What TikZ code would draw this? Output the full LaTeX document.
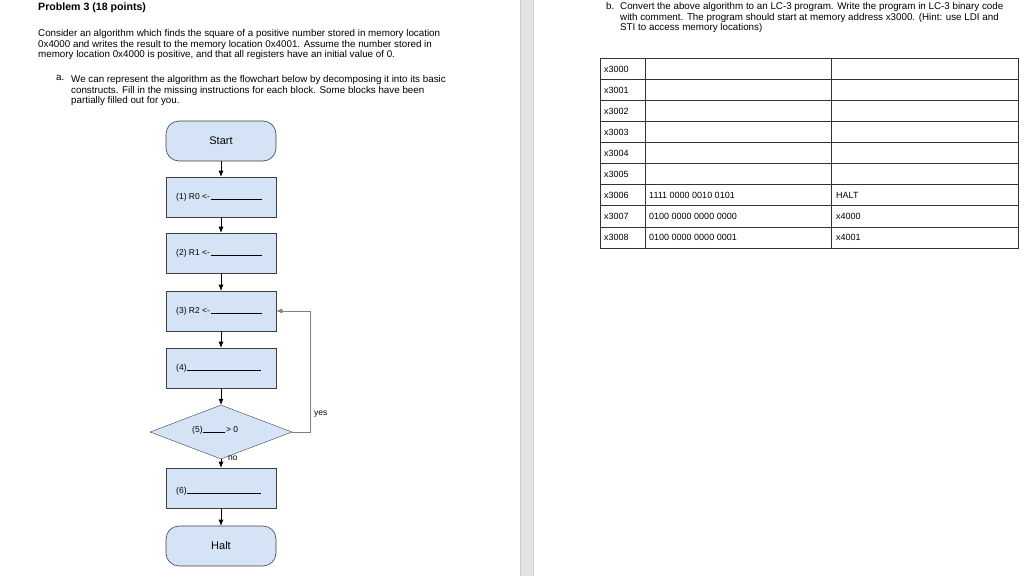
\documentclass[tikz,border=0pt]{standalone}
\usepackage{fontspec}
\setmainfont{Liberation Sans}
\usetikzlibrary{shapes.geometric,arrows.meta}
\begin{document}
\begin{tikzpicture}[x=1pt,y=-1pt,
  box/.style={draw=black!75,fill=fcol,line width=0.6pt,minimum width=110pt,minimum height=40pt,inner sep=0pt,font=\fontsize{8.5}{9}\selectfont},
  term/.style={box,rounded corners=13pt,font=\fontsize{11}{12}\selectfont},
  dia/.style={draw=black!75,fill=fcol,diamond,aspect=2.6,minimum width=142pt,minimum height=54pt,inner sep=0pt,font=\fontsize{8.5}{9}\selectfont},
  lbl/.style={anchor=west,inner sep=0pt,font=\fontsize{8.5}{9}\selectfont},
  arr/.style={-{Latex[length=6pt,width=5pt]},line width=0.6pt},
  body/.style={anchor=north west,align=left,font=\fontsize{9.8}{10.8}\selectfont,inner sep=0pt},
  cell/.style={font=\fontsize{9}{10}\selectfont,anchor=west,inner sep=0pt}]
\definecolor{fcol}{HTML}{D4E3F5}
\useasboundingbox (0,0) rectangle (1024,576);
\fill[white] (0,0) rectangle (1024,576);
\fill[black!11] (520,0) rectangle (533,576);
\draw[black!20] (520,0) -- (520,576) (533,0)--(533,576);
\node[body,font=\fontsize{10.6}{12}\selectfont\bfseries] (title) at (38,3) {Problem 3 (18 points)};
\node[body] (p1) at (38,29) {Consider an algorithm which finds the square of a positive number stored in memory location\\0x4000 and writes the result to the memory location 0x4001. Assume the number stored in\\memory location 0x4000 is positive, and that all registers have an initial value of 0.};
\node[body] (pa) at (56,75) {a.};
\node[body] (p2) at (71,75) {We can represent the algorithm as the flowchart below by decomposing it into its basic\\constructs. Fill in the missing instructions for each block. Some blocks have been\\partially filled out for you.};
\node[term] (start) at (221,141) {Start};
\node[box] (b1) at (221,197) {};
\node[box] (b2) at (221,253) {};
\node[box] (b3) at (221,311) {};
\node[box] (b4) at (221,368) {};
\node[dia] (b5) at (221,432) {};
\node[box] (b6) at (221,488) {};
\node[term] (halt) at (221,546) {Halt};
\node[lbl] (t1) at (176,197) {(1) R0 <-\,\rule{51pt}{0.4pt}};
\node[lbl] (t2) at (176,253) {(2) R1 <-\,\rule{51pt}{0.4pt}};
\node[lbl] (t3) at (176,311) {(3) R2 <-\,\rule{51pt}{0.4pt}};
\node[lbl] (t4) at (176,368) {(4)\rule{74pt}{0.4pt}};
\node[lbl] (t5) at (192,430) {(5)\rule{22pt}{0.4pt}\,> 0};
\node[lbl] (t6) at (176,491) {(6)\rule{74pt}{0.4pt}};
\node[lbl] (no) at (228,458) {no};
\node[lbl] (yes) at (314,414) {yes};
\draw[arr] (start) -- (b1);
\draw[arr] (b1) -- (b2);
\draw[arr] (b2) -- (b3);
\draw[arr] (b3) -- (b4);
\draw[arr] (b4) -- (b5);
\draw[arr] (b5) -- (b6);
\draw[arr] (b6) -- (halt);
\draw[arr,draw=black!50] (b5.east) -- (310,432) -- (310,311) -- (b3.east);
\node[body] (pb) at (606,2) {b.};
\node[body] (p3) at (620,2) {Convert the above algorithm to an LC-3 program. Write the program in LC-3 binary code\\with comment. The program should start at memory address x3000. (Hint: use LDI and\\STI to access memory locations)};
\draw[line width=0.6pt,black!80] (600,58) rectangle (1018,248);
\foreach \i in {1,...,8} \draw[line width=0.6pt,black!80] (600,58+21.1*\i) -- (1018,58+21.1*\i);
\draw[line width=0.6pt,black!80] (645,58) -- (645,248) (831,58) -- (831,248);
\foreach \a [count=\i from 0] in {3000,3001,3002,3003,3004,3005,3006,3007,3008}
  \node[cell] (a\i) at (604,69+21.1*\i) {x\a};
\node[cell] (c6) at (649,195.6) {1111 0000 0010 0101};
\node[cell] (c7) at (649,216.7) {0100 0000 0000 0000};
\node[cell] (c8) at (649,237.8) {0100 0000 0000 0001};
\node[cell] (d6) at (836,195.6) {HALT};
\node[cell] (d7) at (836,216.7) {x4000};
\node[cell] (d8) at (836,237.8) {x4001};
\end{tikzpicture}
\end{document}
